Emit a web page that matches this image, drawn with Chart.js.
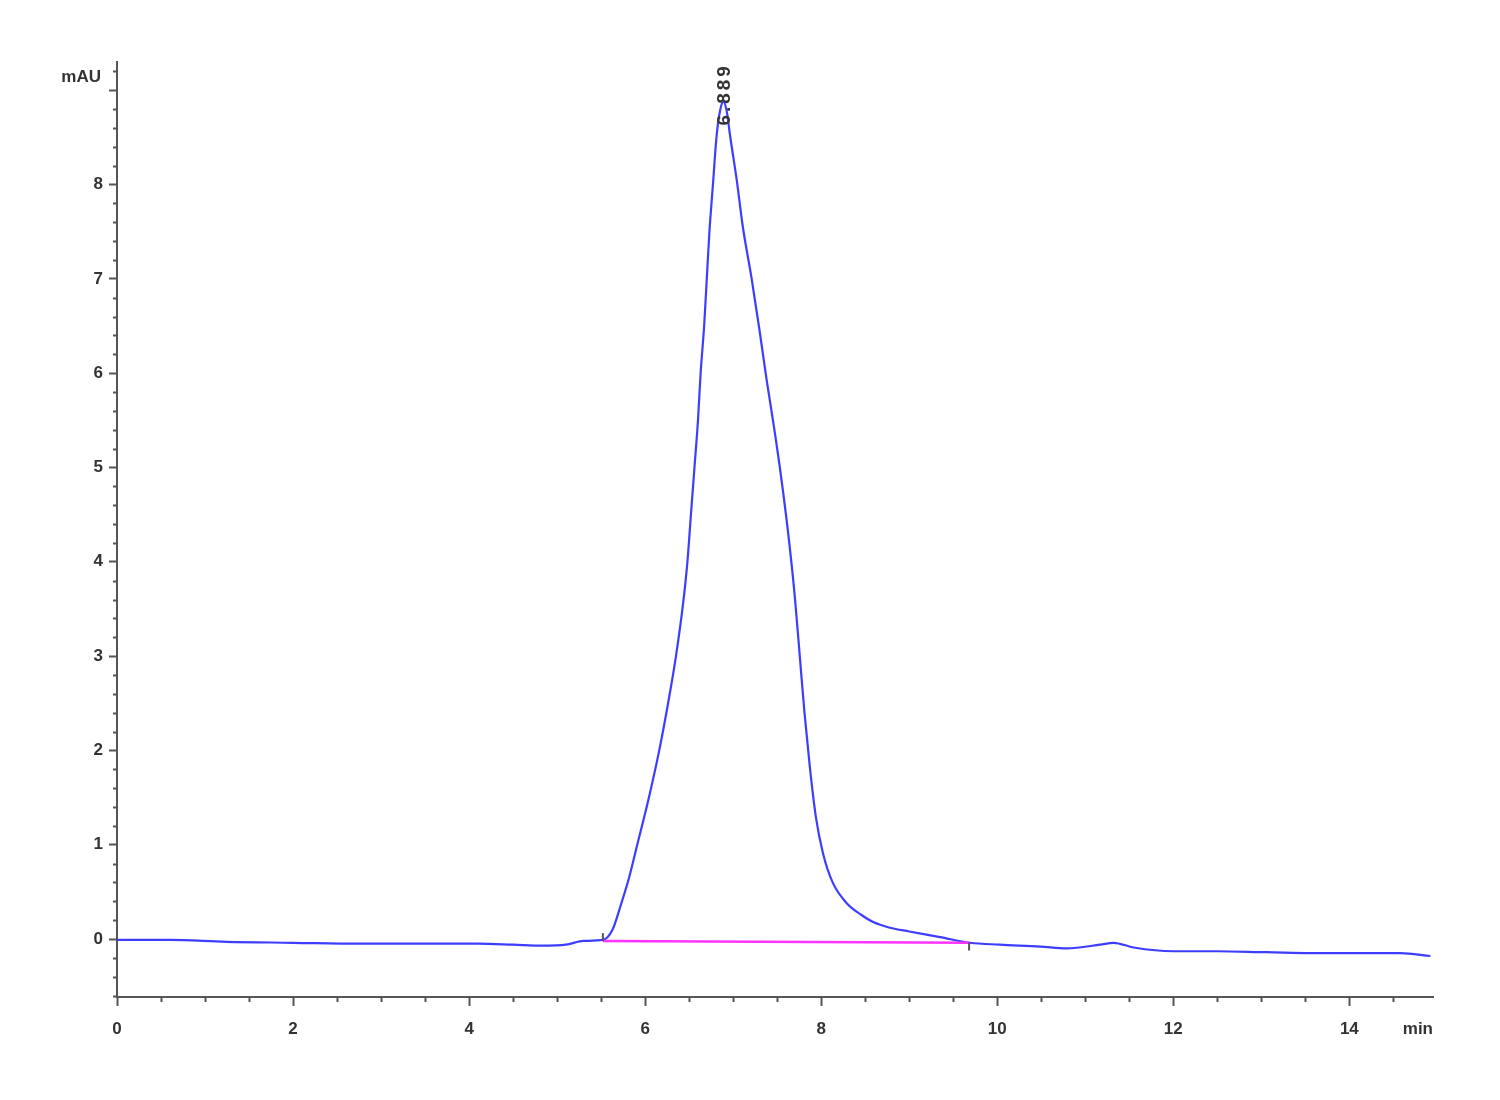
<!DOCTYPE html>
<html lang="en">
<head>
    <meta charset="UTF-8">
    <title>Chromatogram</title>
    <script src="https://cdn.jsdelivr.net/npm/chart.js"></script>
    <style>
        body {
            margin: 0;
            padding: 0;
            background: white;
        }
        #chart {
            display: block;
        }
    </style>
</head>
<body>
    <canvas id="chart" width="1500" height="1100"></canvas>

    <script>
        // retention time (min) and signal (mAU)
        let times = [0, 0.6, 1.24, 2.0, 2.75, 3.5, 4.1, 4.5, 4.83, 5.1, 5.3, 5.52,
            5.63, 5.72, 5.82, 5.91, 6.03, 6.16, 6.27, 6.35, 6.43, 6.48, 6.52, 6.56,
            6.60, 6.63, 6.67, 6.70, 6.73, 6.77, 6.81, 6.85, 6.89, 6.93, 6.96, 7.04,
            7.11, 7.21, 7.30, 7.38, 7.46, 7.53, 7.62, 7.70, 7.76, 7.81, 7.87, 7.94, 8.02,
            8.13, 8.29, 8.45, 8.59, 8.78, 9.0, 9.35, 9.69, 10.03,
            10.49, 10.79, 11.17, 11.32, 11.55, 12.0, 12.5, 13.06, 13.8, 14.58, 14.92];
        let signal = [-0.01, -0.01, -0.03, -0.04, -0.05, -0.05, -0.05, -0.06, -0.07, -0.06, -0.02, -0.01,
            0.10, 0.35, 0.66, 1.0, 1.45, 2.0, 2.55, 3.0, 3.55, 4.0, 4.5, 5.0,
            5.5, 6.0, 6.5, 7.0, 7.5, 8.0, 8.5, 8.78, 8.88, 8.76, 8.55, 8.05,
            7.55, 7.0, 6.45, 5.93, 5.45, 5.0, 4.34, 3.63, 2.96, 2.4, 1.83, 1.29, 0.91,
            0.6, 0.38, 0.26, 0.18, 0.12, 0.08, 0.02, -0.04, -0.06,
            -0.08, -0.10, -0.06, -0.04, -0.09, -0.13, -0.13, -0.14, -0.15, -0.15, -0.18];

        // integration baseline
        let baseTimes = [5.52, 9.68];
        let baseSignal = [-0.02, -0.04];
        let baseMarkY = [0.02, -0.08];

        let peakTime = 6.889;
        let peakHeight = 8.88;
        let peakLabel = "6.889";

        let xMajor = [0, 2, 4, 6, 8, 10, 12, 14];

        let fontFamily = "'Liberation Sans Narrow', 'Liberation Sans', sans-serif";
        let labelFont = "bold 17px " + fontFamily;

        function toPoints(xs, ys) {
            return xs.map((x, i) => ({ x: x, y: ys[i] }));
        }

        // minor ticks, peak label and unit labels
        let decorations = {
            id: 'decorations',
            afterDraw(chart) {
                let ctx = chart.ctx;
                let xs = chart.scales.x;
                let ys = chart.scales.y;
                let area = chart.chartArea;
                ctx.save();
                ctx.strokeStyle = '#555';
                ctx.lineWidth = 2;

                // y minor ticks every 0.2
                for (let i = -3; i <= 46; i++) {
                    if (i % 5 === 0) continue;
                    let py = Math.round(ys.getPixelForValue(i * 0.2)) + 0.5;
                    if (py < area.top - 1 || py > area.bottom) continue;
                    ctx.beginPath();
                    ctx.moveTo(area.left - 4, py);
                    ctx.lineTo(area.left, py);
                    ctx.stroke();
                }
                // x minor ticks every 0.5
                for (let i = 1; i < 30; i++) {
                    if (i % 4 === 0) continue;
                    let px = Math.round(xs.getPixelForValue(i * 0.5)) + 0.5;
                    if (px > area.right) continue;
                    ctx.beginPath();
                    ctx.moveTo(px, area.bottom);
                    ctx.lineTo(px, area.bottom + 5);
                    ctx.stroke();
                }

                ctx.fillStyle = '#333';
                ctx.font = labelFont;

                // unit labels
                ctx.textAlign = 'right';
                ctx.textBaseline = 'middle';
                ctx.fillText('mAU', area.left - 16, area.top + 15);
                ctx.textBaseline = 'top';
                ctx.fillText('min', area.right, area.bottom + 24);

                // retention time label, rotated
                let px = xs.getPixelForValue(peakTime);
                let py = ys.getPixelForValue(peakHeight);
                ctx.translate(px + 1, py + 24);
                ctx.rotate(-Math.PI / 2);
                ctx.textAlign = 'left';
                ctx.textBaseline = 'middle';
                ctx.font = "bold 19px 'Liberation Sans', sans-serif";
                ctx.letterSpacing = '3px';
                ctx.fillText(peakLabel, 0, 0);
                ctx.restore();
            }
        };

        let ctx = document.getElementById('chart').getContext('2d');
        let chart = new Chart(ctx, {
            type: 'scatter',
            data: {
                datasets: [
                    {
                        label: 'signal',
                        data: toPoints(times, signal),
                        showLine: true,
                        borderColor: 'rgba(40, 40, 255, 0.9)',
                        borderWidth: 2.2,
                        pointRadius: 0,
                        cubicInterpolationMode: 'monotone',
                        order: 2
                    },
                    {
                        label: 'baseline',
                        data: toPoints(baseTimes, baseSignal),
                        showLine: true,
                        borderColor: '#ff33ff',
                        borderWidth: 2.5,
                        pointRadius: 0,
                        order: 1
                    },
                    {
                        label: 'marks',
                        data: toPoints(baseTimes, baseMarkY),
                        showLine: false,
                        pointStyle: 'line',
                        rotation: 90,
                        radius: 4,
                        borderColor: '#555',
                        borderWidth: 2,
                        order: 0
                    }
                ]
            },
            options: {
                responsive: false,
                animation: false,
                devicePixelRatio: 1,
                layout: {
                    padding: { top: 62, right: 67, bottom: 0, left: 0 }
                },
                plugins: {
                    legend: { display: false },
                    tooltip: { enabled: false }
                },
                scales: {
                    x: {
                        type: 'linear',
                        min: 0,
                        max: 14.95,
                        afterFit(scale) { scale.height = 103; },
                        afterBuildTicks(scale) {
                            scale.ticks = xMajor.map(v => ({ value: v }));
                        },
                        ticks: {
                            includeBounds: false,
                            autoSkip: false,
                            maxRotation: 0,
                            padding: 13,
                            color: '#333',
                            font: { family: fontFamily, size: 17, weight: 'bold' }
                        },
                        grid: {
                            drawOnChartArea: false,
                            tickLength: 9,
                            tickWidth: 2,
                            tickColor: '#555'
                        },
                        border: { color: '#555', width: 2 }
                    },
                    y: {
                        min: -0.615,
                        max: 9.3,
                        afterFit(scale) { scale.width = 117; },
                        ticks: {
                            stepSize: 1,
                            includeBounds: false,
                            padding: 6,
                            color: '#333',
                            font: { family: fontFamily, size: 17, weight: 'bold' },
                            callback: v => (v === 9 ? '' : v)
                        },
                        grid: {
                            drawOnChartArea: false,
                            tickLength: 8,
                            tickWidth: 2,
                            tickColor: '#555'
                        },
                        border: { color: '#555', width: 2 }
                    }
                }
            },
            plugins: [decorations]
        });
    </script>
</body>
</html>
